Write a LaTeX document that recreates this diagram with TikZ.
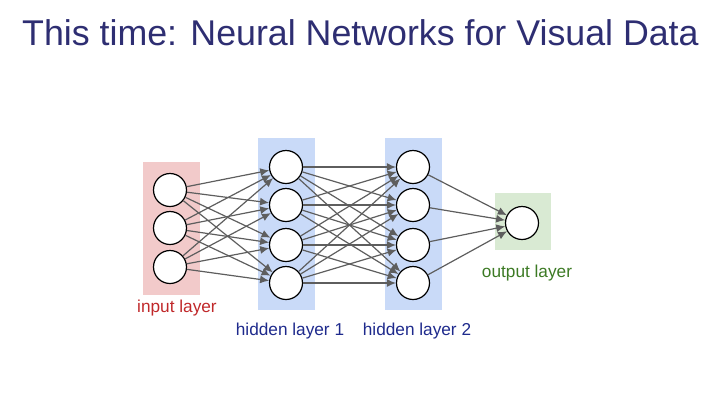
\documentclass[tikz,border=0pt]{standalone}
\usepackage{fontspec}
\setmainfont{Liberation Sans}
\usetikzlibrary{arrows.meta}
\definecolor{ttl}{HTML}{2E2E72}
\definecolor{inred}{HTML}{F2CACA}
\definecolor{hidblue}{HTML}{C9DAF8}
\definecolor{outgreen}{HTML}{D9EAD3}
\definecolor{redtxt}{HTML}{C0282A}
\definecolor{bluetxt}{HTML}{1E2A8C}
\definecolor{greentxt}{HTML}{3C7A24}
\definecolor{edge}{HTML}{5E5E5E}
\begin{document}
\begin{tikzpicture}[x=1bp,y=-1bp,
  neuron/.style={circle,draw=black,line width=1.2bp,fill=white,minimum size=33bp,inner sep=0pt},
  conn/.style={edge,line width=1.2bp,-{Latex[length=9bp,width=8bp]}},
  lbl/.style={font=\fontsize{17.3}{20}\selectfont}]
\useasboundingbox (0,0) rectangle (720,405);
\node[anchor=base west,text=ttl,font=\fontsize{35.9}{40}\selectfont,inner sep=0pt] (title) at (22,45) {This time: Neural Networks for Visual Data};
\fill[inred] (143,162) rectangle (200,295);
\fill[hidblue] (258,138) rectangle (315,310);
\fill[hidblue] (385,138) rectangle (442,310);
\fill[outgreen] (495,193) rectangle (551,250);
\foreach \i/\y in {1/190,2/228,3/267} \node[neuron] (i\i) at (170,\y) {};
\foreach \i/\y in {1/167,2/205,3/245,4/283} {
  \node[neuron] (a\i) at (286,\y) {};
  \node[neuron] (b\i) at (413,\y) {};
}
\node[neuron] (o) at (522,223) {};
\foreach \i in {1,2,3} \foreach \j in {1,2,3,4} \draw[conn] (i\i) -- (a\j);
\foreach \i in {1,2,3,4} \foreach \j in {1,2,3,4} \draw[conn] (a\i) -- (b\j);
\foreach \i in {1,2,3,4} \draw[conn] (b\i) -- (o);
\node[lbl,text=redtxt] (li) at (177,308) {input layer};
\node[lbl,text=bluetxt] (lh1) at (290,331) {hidden layer 1};
\node[lbl,text=bluetxt] (lh2) at (417,331) {hidden layer 2};
\node[lbl,text=greentxt] (lo) at (527,273) {output layer};
\end{tikzpicture}
\end{document}
